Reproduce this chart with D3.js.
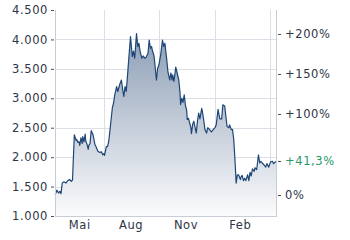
<!DOCTYPE html>
<html>
<head>
<meta charset="utf-8">
<script src="https://cdn.jsdelivr.net/npm/d3@7"></script>
<style>
  body { margin: 0; background: #fff; }
  text { font-family: "DejaVu Sans", Verdana, sans-serif; }
</style>
</head>
<body>
<div id="chart"></div>
<script>
// price series (date, close)
const priceSeries = [
  ['2023-04-11', 1364], ['2023-04-13', 1400], ['2023-04-14', 1440], ['2023-04-17', 1390],
  ['2023-04-19', 1420], ['2023-04-21', 1380], ['2023-04-23', 1560], ['2023-04-26', 1580],
  ['2023-04-29', 1560], ['2023-05-02', 1600], ['2023-05-05', 1620], ['2023-05-08', 1590],
  ['2023-05-10', 1610], ['2023-05-13', 2380], ['2023-05-16', 2280], ['2023-05-17', 2300],
  ['2023-05-19', 2250], ['2023-05-21', 2260], ['2023-05-22', 2200], ['2023-05-24', 2330],
  ['2023-05-26', 2230], ['2023-05-27', 2350], ['2023-05-29', 2260], ['2023-05-31', 2390],
  ['2023-06-01', 2270], ['2023-06-03', 2220], ['2023-06-05', 2130], ['2023-06-06', 2200],
  ['2023-06-08', 2230], ['2023-06-10', 2450], ['2023-06-13', 2380], ['2023-06-16', 2220],
  ['2023-06-17', 2200], ['2023-06-21', 2100], ['2023-06-24', 2080], ['2023-06-27', 2090],
  ['2023-06-29', 2040], ['2023-07-01', 2060], ['2023-07-02', 2030], ['2023-07-05', 2180],
  ['2023-07-07', 2180], ['2023-07-09', 2270], ['2023-07-11', 2450], ['2023-07-12', 2550],
  ['2023-07-15', 2840], ['2023-07-17', 2920], ['2023-07-19', 3060], ['2023-07-22', 3200],
  ['2023-07-24', 3115], ['2023-07-27', 3230], ['2023-07-30', 3310], ['2023-08-01', 3150],
  ['2023-08-03', 3030], ['2023-08-05', 3200], ['2023-08-07', 3115], ['2023-08-10', 3510],
  ['2023-08-14', 4050], ['2023-08-17', 3710], ['2023-08-19', 3800], ['2023-08-21', 3680],
  ['2023-08-24', 4100], ['2023-08-26', 3880], ['2023-08-28', 3935], ['2023-08-30', 3790],
  ['2023-09-02', 3680], ['2023-09-04', 3720], ['2023-09-07', 3680], ['2023-09-09', 3700],
  ['2023-09-12', 3760], ['2023-09-14', 3990], ['2023-09-16', 3850], ['2023-09-18', 3880],
  ['2023-09-19', 3820], ['2023-09-22', 3720], ['2023-09-23', 3620], ['2023-09-26', 3310],
  ['2023-09-28', 3510], ['2023-09-30', 3560], ['2023-10-03', 3740], ['2023-10-06', 3990],
  ['2023-10-08', 3880], ['2023-10-10', 3935], ['2023-10-13', 3660], ['2023-10-15', 3454],
  ['2023-10-18', 3314], ['2023-10-20', 3430], ['2023-10-22', 3310], ['2023-10-23', 3400],
  ['2023-10-25', 3285], ['2023-10-28', 3530], ['2023-10-31', 3400], ['2023-11-02', 3310],
  ['2023-11-04', 3100], ['2023-11-05', 2890], ['2023-11-07', 3000], ['2023-11-09', 2930],
  ['2023-11-11', 3060], ['2023-11-13', 2880], ['2023-11-15', 2800], ['2023-11-16', 2640],
  ['2023-11-18', 2660], ['2023-11-20', 2580], ['2023-11-22', 2500], ['2023-11-23', 2400],
  ['2023-11-25', 2560], ['2023-11-27', 2610], ['2023-11-30', 2450], ['2023-12-01', 2410],
  ['2023-12-03', 2620], ['2023-12-05', 2750], ['2023-12-07', 2650], ['2023-12-10', 2830],
  ['2023-12-11', 2780], ['2023-12-14', 2580], ['2023-12-15', 2480], ['2023-12-18', 2410],
  ['2023-12-20', 2500], ['2023-12-23', 2466], ['2023-12-26', 2430], ['2023-12-29', 2466],
  ['2024-01-01', 2500], ['2024-01-03', 2550], ['2024-01-06', 2810], ['2024-01-08', 2700],
  ['2024-01-09', 2650], ['2024-01-12', 2650], ['2024-01-14', 2890], ['2024-01-17', 2870],
  ['2024-01-19', 2690], ['2024-01-21', 2520], ['2024-01-24', 2500], ['2024-01-25', 2550],
  ['2024-01-28', 2466], ['2024-01-30', 2470], ['2024-02-01', 2300], ['2024-02-03', 1960],
  ['2024-02-05', 1560], ['2024-02-07', 1700], ['2024-02-09', 1700], ['2024-02-12', 1620],
  ['2024-02-13', 1660], ['2024-02-15', 1690], ['2024-02-17', 1600], ['2024-02-19', 1640],
  ['2024-02-21', 1600], ['2024-02-24', 1700], ['2024-02-26', 1600], ['2024-02-28', 1740],
  ['2024-03-01', 1680], ['2024-03-03', 1800], ['2024-03-06', 1760], ['2024-03-07', 1820],
  ['2024-03-10', 1790], ['2024-03-11', 1870], ['2024-03-13', 2040], ['2024-03-15', 1900],
  ['2024-03-17', 1930], ['2024-03-19', 1900], ['2024-03-22', 1870], ['2024-03-25', 1830],
  ['2024-03-27', 1890], ['2024-03-30', 1830], ['2024-04-02', 1920], ['2024-04-05', 1930],
  ['2024-04-07', 1890], ['2024-04-11', 1927]
];

// axis ticks
const priceTicks = [1000, 1500, 2000, 2500, 3000, 3500, 4000, 4500];
const percentTicks = [0, 1, 1.5, 2];
const gridDates = ['2023-07-01', '2023-10-01', '2024-01-01', '2024-04-01'];
const monthLabels = ['Mai', 'Aug', 'Nov', 'Feb'];
const monthLabelDates = ['2023-05-22', '2023-08-15', '2023-11-14', '2024-02-12'];

const width = 350, height = 240;
const margin = { top: 10, right: 74, bottom: 24, left: 55 };

const parse = d3.timeParse('%Y-%m-%d');
const data = priceSeries.map(([d, v]) => ({ date: parse(d), value: v }));
const base = data[0].value;
const last = data[data.length - 1].value;

const de = d3.formatLocale({ decimal: ',', thousands: '.', grouping: [3], currency: ['', '€'] });
const fmtPrice = de.format(',');
const fmtPct = p => p === 0 ? '0%' : de.format('+.0%')(p);
const fmtLast = de.format('+.1%');

const svg = d3.select('#chart')
  .append('svg')
  .attr('width', width)
  .attr('height', height);

const x = d3.scaleTime()
  .domain(d3.extent(data, d => d.date))
  .range([margin.left, width - margin.right]);

const y = d3.scaleLinear()
  .domain([1000, 4500])
  .range([height - margin.bottom, margin.top]);

// gradient fill
const grad = svg.append('defs').append('linearGradient')
  .attr('id', 'fillGrad')
  .attr('gradientUnits', 'userSpaceOnUse')
  .attr('x1', 0).attr('x2', 0)
  .attr('y1', y(4500)).attr('y2', y(1000));
grad.append('stop').attr('offset', '0%').attr('stop-color', '#7d92ad');
grad.append('stop').attr('offset', '55%').attr('stop-color', '#c3ccd8');
grad.append('stop').attr('offset', '100%').attr('stop-color', '#fbfbfc');

// horizontal gridlines
svg.append('g')
  .selectAll('line')
  .data(priceTicks.filter(t => t > 1000 && t < 4500))
  .join('line')
  .attr('x1', margin.left).attr('x2', width - margin.right)
  .attr('y1', d => Math.round(y(d)) + 0.5).attr('y2', d => Math.round(y(d)) + 0.5)
  .attr('stroke', '#dcdfe5');

// vertical gridlines
svg.append('g')
  .selectAll('line')
  .data(gridDates.map(parse))
  .join('line')
  .attr('x1', d => Math.round(x(d)) + 0.5).attr('x2', d => Math.round(x(d)) + 0.5)
  .attr('y1', margin.top).attr('y2', height - margin.bottom)
  .attr('stroke', '#dcdfe5');

// area + line
svg.append('path')
  .datum(data)
  .attr('fill', 'url(#fillGrad)')
  .attr('d', d3.area().x(d => x(d.date)).y0(y(1000)).y1(d => y(d.value)));

svg.append('path')
  .datum(data)
  .attr('fill', 'none')
  .attr('stroke', '#1d4677')
  .attr('stroke-width', 1.2)
  .attr('stroke-linejoin', 'round')
  .attr('d', d3.line().x(d => x(d.date)).y(d => y(d.value)));

// frame lines
const frame = svg.append('g').attr('stroke', '#c9cdd6');
frame.append('line')
  .attr('x1', margin.left + 0.5).attr('x2', margin.left + 0.5)
  .attr('y1', margin.top).attr('y2', height - margin.bottom);
frame.append('line')
  .attr('x1', width - margin.right + 0.5).attr('x2', width - margin.right + 0.5)
  .attr('y1', margin.top).attr('y2', height - margin.bottom);
frame.append('line')
  .attr('x1', margin.left).attr('x2', width - margin.right + 1)
  .attr('y1', Math.round(y(1000)) + 0.5).attr('y2', Math.round(y(1000)) + 0.5);

// left axis
const left = svg.append('g')
  .attr('transform', `translate(${margin.left},0)`)
  .call(d3.axisLeft(y).tickValues(priceTicks).tickFormat(fmtPrice).tickSize(3).tickPadding(4));
left.select('.domain').remove();
left.selectAll('.tick line').attr('stroke', '#4a4f5c').attr('transform', 'translate(-1,0)');
left.selectAll('.tick text')
  .attr('fill', '#2e3545')
  .style('font-size', '11.5px')
  .style('letter-spacing', '0.6px');

// right axis (percent vs first close)
const yPct = p => y(base * (1 + p));
const right = svg.append('g')
  .attr('transform', `translate(${width - margin.right + 1},0)`);
right.selectAll('line')
  .data(percentTicks.concat([last / base - 1]))
  .join('line')
  .attr('x1', 1).attr('x2', 4)
  .attr('y1', d => Math.round(yPct(d)) + 0.5).attr('y2', d => Math.round(yPct(d)) + 0.5)
  .attr('stroke', '#4a4f5c');
right.selectAll('text.pct')
  .data(percentTicks)
  .join('text')
  .attr('class', 'pct')
  .attr('x', 8)
  .attr('y', d => yPct(d))
  .attr('dy', '0.35em')
  .attr('fill', '#2e3545')
  .style('font-size', '11.5px')
  .style('letter-spacing', '0.6px')
  .text(fmtPct);
right.append('text')
  .attr('x', 8)
  .attr('y', yPct(last / base - 1))
  .attr('dy', '0.35em')
  .attr('fill', '#27996a')
  .style('font-size', '11.5px')
  .style('letter-spacing', '0.6px')
  .text(fmtLast(last / base - 1));

// month labels
svg.append('g')
  .selectAll('text')
  .data(monthLabels)
  .join('text')
  .attr('x', (d, i) => x(parse(monthLabelDates[i])))
  .attr('y', height - 11)
  .attr('text-anchor', 'middle')
  .attr('fill', '#2e3545')
  .style('font-size', '11.5px')
  .style('letter-spacing', '0.6px')
  .text(d => d);
</script>
</body>
</html>
